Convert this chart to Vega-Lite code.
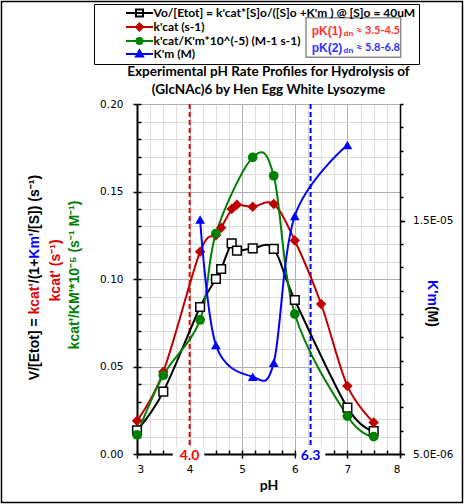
{
  "$schema": "https://vega.github.io/schema/vega-lite/v6.json",
  "width": 263,
  "height": 350,
  "autosize": "none",
  "padding": {"left": 137, "top": 104, "right": 65, "bottom": 50},
  "background": "white",
  "config": {"view": {"stroke": null}},
  "datasets": {
    "main": [
      {"series": "Vo/[Etot] = k'cat*[S]o/([S]o +K'm ) @ [S]o = 40uM", "pH": 3.0, "value": 0.0135},
      {"series": "Vo/[Etot] = k'cat*[S]o/([S]o +K'm ) @ [S]o = 40uM", "pH": 3.5, "value": 0.0356},
      {"series": "Vo/[Etot] = k'cat*[S]o/([S]o +K'm ) @ [S]o = 40uM", "pH": 4.2, "value": 0.084},
      {"series": "Vo/[Etot] = k'cat*[S]o/([S]o +K'm ) @ [S]o = 40uM", "pH": 4.5, "value": 0.100},
      {"series": "Vo/[Etot] = k'cat*[S]o/([S]o +K'm ) @ [S]o = 40uM", "pH": 4.6, "value": 0.1057},
      {"series": "Vo/[Etot] = k'cat*[S]o/([S]o +K'm ) @ [S]o = 40uM", "pH": 4.8, "value": 0.1204},
      {"series": "Vo/[Etot] = k'cat*[S]o/([S]o +K'm ) @ [S]o = 40uM", "pH": 4.9, "value": 0.1162},
      {"series": "Vo/[Etot] = k'cat*[S]o/([S]o +K'm ) @ [S]o = 40uM", "pH": 5.2, "value": 0.1175},
      {"series": "Vo/[Etot] = k'cat*[S]o/([S]o +K'm ) @ [S]o = 40uM", "pH": 5.6, "value": 0.1172},
      {"series": "Vo/[Etot] = k'cat*[S]o/([S]o +K'm ) @ [S]o = 40uM", "pH": 6.0, "value": 0.088},
      {"series": "Vo/[Etot] = k'cat*[S]o/([S]o +K'm ) @ [S]o = 40uM", "pH": 7.0, "value": 0.0265},
      {"series": "Vo/[Etot] = k'cat*[S]o/([S]o +K'm ) @ [S]o = 40uM", "pH": 7.5, "value": 0.0131},
      {"series": "k'cat (s-1)", "pH": 3.0, "value": 0.019},
      {"series": "k'cat (s-1)", "pH": 3.5, "value": 0.047},
      {"series": "k'cat (s-1)", "pH": 4.2, "value": 0.1156},
      {"series": "k'cat (s-1)", "pH": 4.5, "value": 0.125},
      {"series": "k'cat (s-1)", "pH": 4.6, "value": 0.1293},
      {"series": "k'cat (s-1)", "pH": 4.8, "value": 0.140},
      {"series": "k'cat (s-1)", "pH": 4.9, "value": 0.1425},
      {"series": "k'cat (s-1)", "pH": 5.2, "value": 0.1413},
      {"series": "k'cat (s-1)", "pH": 5.6, "value": 0.1428},
      {"series": "k'cat (s-1)", "pH": 6.0, "value": 0.122},
      {"series": "k'cat (s-1)", "pH": 6.5, "value": 0.0857},
      {"series": "k'cat (s-1)", "pH": 7.0, "value": 0.0389},
      {"series": "k'cat (s-1)", "pH": 7.5, "value": 0.018},
      {"series": "k'cat/K'm*10^(-5) (M-1 s-1)", "pH": 3.0, "value": 0.011},
      {"series": "k'cat/K'm*10^(-5) (M-1 s-1)", "pH": 3.5, "value": 0.045},
      {"series": "k'cat/K'm*10^(-5) (M-1 s-1)", "pH": 4.2, "value": 0.0766},
      {"series": "k'cat/K'm*10^(-5) (M-1 s-1)", "pH": 4.5, "value": 0.126},
      {"series": "k'cat/K'm*10^(-5) (M-1 s-1)", "pH": 5.2, "value": 0.1695},
      {"series": "k'cat/K'm*10^(-5) (M-1 s-1)", "pH": 5.6, "value": 0.159},
      {"series": "k'cat/K'm*10^(-5) (M-1 s-1)", "pH": 6.0, "value": 0.080},
      {"series": "k'cat/K'm*10^(-5) (M-1 s-1)", "pH": 7.0, "value": 0.0217},
      {"series": "k'cat/K'm*10^(-5) (M-1 s-1)", "pH": 7.5, "value": 0.0099}
    ],
    "km": [
      {"series": "K'm (M)", "pH": 4.2, "Km": 0.00001505},
      {"series": "K'm (M)", "pH": 4.5, "Km": 0.00000967},
      {"series": "K'm (M)", "pH": 5.2, "Km": 0.00000831},
      {"series": "K'm (M)", "pH": 5.6, "Km": 0.00000891},
      {"series": "K'm (M)", "pH": 6.0, "Km": 0.0000152},
      {"series": "K'm (M)", "pH": 7.0, "Km": 0.00001824}
    ]
  },
  "layer": [
    {
      "data": {"values": [{}]},
      "layer": [
        {
          "data": {"name": "main"},
          "mark": {"type": "point", "opacity": 0},
          "encoding": {
            "x": {
              "field": "pH", "type": "quantitative",
              "scale": {"domain": [3, 8], "nice": false, "zero": false},
              "axis": {
                "orient": "bottom", "title": null,
                "values": [3, 3.25, 3.5, 3.75, 4, 4.25, 4.5, 4.75, 5, 5.25, 5.5, 5.75, 6, 6.25, 6.5, 6.75, 7, 7.25, 7.5, 7.75, 8],
                "labels": false, "domain": false,
                "ticks": true, "tickSize": -4, "tickColor": "black", "tickWidth": 1.5,
                "grid": true, "gridColor": "#dcdcdc", "gridWidth": 1
              }
            },
            "y": {
              "field": "value", "type": "quantitative",
              "scale": {"domain": [0, 0.2], "nice": false, "zero": false},
              "axis": {
                "orient": "left", "title": null,
                "values": [0, 0.01, 0.02, 0.03, 0.04, 0.05, 0.06, 0.07, 0.08, 0.09, 0.1, 0.11, 0.12, 0.13, 0.14, 0.15, 0.16, 0.17, 0.18, 0.19, 0.2],
                "labels": false, "domain": false,
                "ticks": true, "tickSize": -4, "tickColor": "black", "tickWidth": 1.5,
                "grid": true, "gridColor": "#dcdcdc", "gridWidth": 1
              }
            }
          }
        },
        {
          "layer": [
            {
              "mark": {"type": "rect", "fill": null, "stroke": "black", "strokeWidth": 1.5},
              "encoding": {
                "x": {"datum": 0.424, "type": "quantitative"},
                "x2": {"datum": 9.188},
                "y": {"datum": 0.2586, "type": "quantitative"},
                "y2": {"datum": -0.0277}
              }
            },
            {
              "mark": {"type": "rule", "color": "#FF0000", "strokeWidth": 2, "strokeDash": [5, 3]},
              "encoding": {"x": {"datum": 4.0, "type": "quantitative"}}
            },
            {
              "mark": {"type": "rule", "color": "#0000FF", "strokeWidth": 2, "strokeDash": [5, 3]},
              "encoding": {"x": {"datum": 6.3, "type": "quantitative"}}
            },
            {
              "data": {"name": "main"},
              "mark": {"type": "line", "interpolate": "cardinal", "strokeWidth": 2},
              "encoding": {
                "x": {
                  "field": "pH", "type": "quantitative",
                  "axis": {
                    "orient": "bottom",
                    "values": [3, 4, 5, 6, 7, 8],
                    "title": "pH", "titleFont": "Lato", "titleFontSize": 14, "titleFontWeight": "bold", "titleColor": "black", "titlePadding": 4,
                    "format": "d",
                    "labelFont": "DejaVu Sans", "labelFontSize": 10.5, "labelColor": "black", "labelPadding": 6, "labelOverlap": false,
                    "domainColor": "black", "domainWidth": 2,
                    "tickColor": "black", "tickWidth": 1.5, "tickSize": 4,
                    "grid": true, "gridColor": "#b0b0b0", "gridWidth": 1
                  }
                },
                "y": {
                  "field": "value", "type": "quantitative",
                  "axis": {
                    "orient": "left",
                    "values": [0, 0.05, 0.1, 0.15, 0.2],
                    "title": null,
                    "format": ".2f",
                    "labelFont": "DejaVu Sans", "labelFontSize": 10.5, "labelColor": "black", "labelPadding": 10, "labelOverlap": false,
                    "domainColor": "black", "domainWidth": 2,
                    "tickColor": "black", "tickWidth": 1.5, "tickSize": 4,
                    "grid": true, "gridColor": "#b0b0b0", "gridWidth": 1
                  }
                },
                "color": {
                  "field": "series", "type": "nominal",
                  "scale": {
                    "domain": ["Vo/[Etot] = k'cat*[S]o/([S]o +K'm ) @ [S]o = 40uM", "k'cat (s-1)", "k'cat/K'm*10^(-5) (M-1 s-1)", "K'm (M)"],
                    "range": ["#000000", "#C00000", "#008000", "#0000FF"]
                  },
                  "legend": {
                    "orient": "none", "legendX": -43, "legendY": -100, "title": null,
                    "padding": 3, "strokeColor": "black", "fillColor": "transparent",
                    "symbolOffset": 36.5, "labelOffset": 8, "rowPadding": -2,
                    "symbolSize": 100, "symbolStrokeWidth": 2,
                    "labelFont": "Lato", "labelFontSize": 12, "labelFontWeight": "bold", "labelColor": "black", "labelLimit": 500,
                    "labelExpr": "indexof(datum.label, 'Vo/') == 0 ? datum.label + '\u00a0\u00a0\u00a0\u00a0\u00a0\u00a0\u00a0' : datum.label",
                    "encode": {
                      "symbols": {
                        "update": {
                          "shape": {"signal": "['M-2.7,0H2.7M-0.7,-0.7H0.7V0.7H-0.7Z','M-2.7,0H2.7M0,-0.7L0.7,0L0,0.7L-0.7,0Z','M-2.7,0H2.7M0.6,0A0.6,0.6,0,1,1,-0.6,0A0.6,0.6,0,1,1,0.6,0Z','M-2.7,0H2.7M0,-0.75L0.7,0.5L-0.7,0.5Z'][datum.index]"},
                          "fill": {"signal": "['transparent','#C00000','#008000','#0000FF'][datum.index]"},
                          "stroke": {"signal": "['#000000','#C00000','#008000','#0000FF'][datum.index]"},
                          "strokeWidth": {"value": 2},
                          "size": {"value": 100}
                        }
                      }
                    }
                  }
                }
              }
            },
            {
              "data": {"name": "main"},
              "transform": [{"filter": "indexof(datum.series, 'Vo/') == 0"}],
              "mark": {"type": "point", "shape": "square", "size": 75, "filled": true, "fill": "white", "stroke": "black", "strokeWidth": 1.5, "opacity": 1},
              "encoding": {"x": {"field": "pH", "type": "quantitative"}, "y": {"field": "value", "type": "quantitative"}}
            },
            {
              "data": {"name": "main"},
              "transform": [{"filter": "datum.series == \"k'cat (s-1)\""}],
              "mark": {"type": "point", "shape": "diamond", "size": 110, "filled": true, "color": "#C00000", "opacity": 1},
              "encoding": {"x": {"field": "pH", "type": "quantitative"}, "y": {"field": "value", "type": "quantitative"}}
            },
            {
              "data": {"name": "main"},
              "transform": [{"filter": "indexof(datum.series, 'k\\'cat/') == 0"}],
              "mark": {"type": "point", "shape": "circle", "size": 95, "filled": true, "color": "#008000", "opacity": 1},
              "encoding": {"x": {"field": "pH", "type": "quantitative"}, "y": {"field": "value", "type": "quantitative"}}
            },
            {
              "mark": {"type": "rect", "fill": "white", "stroke": null},
              "encoding": {"x": {"datum": 3.68, "type": "quantitative"}, "x2": {"datum": 4.28}, "y": {"datum": -0.004, "type": "quantitative"}, "y2": {"datum": 0.004}}
            },
            {
              "mark": {"type": "rect", "fill": "white", "stroke": null},
              "encoding": {"x": {"datum": 6.03, "type": "quantitative"}, "x2": {"datum": 6.58}, "y": {"datum": -0.004, "type": "quantitative"}, "y2": {"datum": 0.004}}
            },
            {
              "mark": {"type": "text", "text": "4.0", "font": "Lato", "fontSize": 14, "fontWeight": "bold", "color": "#FF0000", "align": "center", "baseline": "middle"},
              "encoding": {"x": {"datum": 4.0, "type": "quantitative"}, "y": {"datum": -0.001, "type": "quantitative"}}
            },
            {
              "mark": {"type": "text", "text": "6.3", "font": "Lato", "fontSize": 14, "fontWeight": "bold", "color": "#0000FF", "align": "center", "baseline": "middle"},
              "encoding": {"x": {"datum": 6.3, "type": "quantitative"}, "y": {"datum": -0.001, "type": "quantitative"}}
            },
            {
              "mark": {"type": "text", "text": "Experimental pH Rate Profiles for Hydrolysis of", "font": "Lato", "fontSize": 13.5, "fontWeight": "bold", "color": "black", "align": "center", "baseline": "middle"},
              "encoding": {"x": {"datum": 5.5, "type": "quantitative"}, "y": {"datum": 0.2183, "type": "quantitative"}}
            },
            {
              "mark": {"type": "text", "text": "(GlcNAc)6 by Hen Egg White Lysozyme", "font": "Lato", "fontSize": 13.5, "fontWeight": "bold", "color": "black", "align": "center", "baseline": "middle"},
              "encoding": {"x": {"datum": 5.5, "type": "quantitative"}, "y": {"datum": 0.208, "type": "quantitative"}}
            },
            {
              "mark": {"type": "rect", "fill": "white", "stroke": "#8c8c8c", "strokeWidth": 1.5},
              "encoding": {"x": {"datum": 6.213, "type": "quantitative"}, "x2": {"datum": 8.013}, "y": {"datum": 0.2493, "type": "quantitative"}, "y2": {"datum": 0.2267}}
            },
            {
              "mark": {"type": "text", "text": "pK(1)", "font": "Liberation Sans", "fontSize": 12, "fontWeight": "bold", "color": "#FF3333", "align": "left", "baseline": "middle"},
              "encoding": {"x": {"datum": 6.321, "type": "quantitative"}, "y": {"datum": 0.2419, "type": "quantitative"}}
            },
            {
              "mark": {"type": "text", "text": "dn", "font": "Liberation Sans", "fontSize": 8, "fontWeight": "bold", "color": "#FF3333", "align": "left", "baseline": "middle"},
              "encoding": {"x": {"datum": 6.926, "type": "quantitative"}, "y": {"datum": 0.2402, "type": "quantitative"}}
            },
            {
              "mark": {"type": "text", "text": "≈ 3.5-4.5", "font": "Lato", "fontSize": 11, "fontWeight": "bold", "color": "#FF3333", "align": "left", "baseline": "middle"},
              "encoding": {"x": {"datum": 7.163, "type": "quantitative"}, "y": {"datum": 0.2419, "type": "quantitative"}}
            },
            {
              "mark": {"type": "text", "text": "pK(2)", "font": "Liberation Sans", "fontSize": 12, "fontWeight": "bold", "color": "#3333FF", "align": "left", "baseline": "middle"},
              "encoding": {"x": {"datum": 6.321, "type": "quantitative"}, "y": {"datum": 0.2318, "type": "quantitative"}}
            },
            {
              "mark": {"type": "text", "text": "dn", "font": "Liberation Sans", "fontSize": 8, "fontWeight": "bold", "color": "#3333FF", "align": "left", "baseline": "middle"},
              "encoding": {"x": {"datum": 6.926, "type": "quantitative"}, "y": {"datum": 0.2301, "type": "quantitative"}}
            },
            {
              "mark": {"type": "text", "text": "≈ 5.8-6.8", "font": "Lato", "fontSize": 11, "fontWeight": "bold", "color": "#3333FF", "align": "left", "baseline": "middle"},
              "encoding": {"x": {"datum": 7.163, "type": "quantitative"}, "y": {"datum": 0.2318, "type": "quantitative"}}
            },
            {
              "mark": {"type": "text", "text": "V/[Etot] = ", "angle": 270, "font": "Liberation Sans", "fontSize": 14, "fontWeight": "bold", "color": "black", "align": "left", "baseline": "middle"},
              "encoding": {"x": {"datum": 1.061, "type": "quantitative"}, "y": {"datum": 0.04217, "type": "quantitative"}}
            },
            {
              "mark": {"type": "text", "text": "kcat'", "angle": 270, "font": "Liberation Sans", "fontSize": 14, "fontWeight": "bold", "color": "#E00000", "align": "left", "baseline": "middle"},
              "encoding": {"x": {"datum": 1.061, "type": "quantitative"}, "y": {"datum": 0.07971, "type": "quantitative"}}
            },
            {
              "mark": {"type": "text", "text": "/(1+", "angle": 270, "font": "Liberation Sans", "fontSize": 14, "fontWeight": "bold", "color": "black", "align": "left", "baseline": "middle"},
              "encoding": {"x": {"datum": 1.061, "type": "quantitative"}, "y": {"datum": 0.0976, "type": "quantitative"}}
            },
            {
              "mark": {"type": "text", "text": "Km'", "angle": 270, "font": "Liberation Sans", "fontSize": 14, "fontWeight": "bold", "color": "#0000FF", "align": "left", "baseline": "middle"},
              "encoding": {"x": {"datum": 1.061, "type": "quantitative"}, "y": {"datum": 0.1116, "type": "quantitative"}}
            },
            {
              "mark": {"type": "text", "text": "/[S]) (s⁻¹)", "angle": 270, "font": "Liberation Sans", "fontSize": 14, "fontWeight": "bold", "color": "black", "align": "left", "baseline": "middle"},
              "encoding": {"x": {"datum": 1.061, "type": "quantitative"}, "y": {"datum": 0.1264, "type": "quantitative"}}
            },
            {
              "mark": {"type": "text", "text": "kcat' (s⁻¹)", "angle": 270, "font": "Liberation Sans", "fontSize": 14, "fontWeight": "bold", "color": "#E00000", "align": "center", "baseline": "middle"},
              "encoding": {"x": {"datum": 1.46, "type": "quantitative"}, "y": {"datum": 0.1049, "type": "quantitative"}}
            },
            {
              "mark": {"type": "text", "text": "kcat'/KM'*10⁻⁵ (s⁻¹ M⁻¹)", "angle": 270, "font": "Liberation Sans", "fontSize": 14, "fontWeight": "bold", "color": "#008000", "align": "center", "baseline": "middle"},
              "encoding": {"x": {"datum": 1.821, "type": "quantitative"}, "y": {"datum": 0.1023, "type": "quantitative"}}
            },
            {
              "mark": {"type": "text", "text": "K'm", "angle": 90, "font": "Liberation Sans", "fontSize": 14, "fontWeight": "bold", "color": "#0000FF", "align": "left", "baseline": "middle"},
              "encoding": {"x": {"datum": 8.608, "type": "quantitative"}, "y": {"datum": 0.0994, "type": "quantitative"}}
            },
            {
              "mark": {"type": "text", "text": " (M)", "angle": 90, "font": "Liberation Sans", "fontSize": 14, "fontWeight": "bold", "color": "black", "align": "left", "baseline": "middle"},
              "encoding": {"x": {"datum": 8.608, "type": "quantitative"}, "y": {"datum": 0.0846, "type": "quantitative"}}
            }
          ]
        }
      ],
      "resolve": {"axis": {"x": "independent", "y": "independent"}}
    },
    {
      "data": {"name": "km"},
      "layer": [
        {
          "mark": {"type": "line", "interpolate": "cardinal", "strokeWidth": 2},
          "encoding": {
            "x": {"field": "pH", "type": "quantitative", "axis": null},
            "y": {
              "field": "Km", "type": "quantitative",
              "scale": {"domain": [0.000005, 0.00002], "nice": false, "zero": false},
              "axis": {
                "orient": "right", "title": null,
                "values": [0.000005, 0.000006, 0.000007, 0.000008, 0.000009, 0.00001, 0.000011, 0.000012, 0.000013, 0.000014, 0.000015, 0.000016, 0.000017, 0.000018, 0.000019, 0.00002],
                "labels": false,
                "domainColor": "black", "domainWidth": 1.5,
                "tickColor": "black", "tickWidth": 1.5, "tickSize": 3,
                "grid": false
              }
            },
            "color": {"field": "series", "type": "nominal"}
          }
        },
        {
          "mark": {"type": "point", "shape": "triangle-up", "size": 95, "filled": true, "color": "#0000FF", "opacity": 1},
          "encoding": {
            "x": {"field": "pH", "type": "quantitative", "axis": null},
            "y": {
              "field": "Km", "type": "quantitative",
              "axis": {
                "orient": "right", "title": null,
                "values": [0.000005, 0.000015],
                "labelExpr": "datum.value < 0.00001 ? '5.0E-06' : '1.5E-05'",
                "labelFont": "DejaVu Sans", "labelFontSize": 10.5, "labelColor": "black", "labelPadding": 8, "labelOverlap": false,
                "domain": false,
                "tickColor": "black", "tickWidth": 1.5, "tickSize": 4.5,
                "grid": false
              }
            }
          }
        }
      ],
      "resolve": {"axis": {"y": "independent"}}
    }
  ],
  "resolve": {"scale": {"y": "independent"}, "axis": {"y": "independent"}}
}
